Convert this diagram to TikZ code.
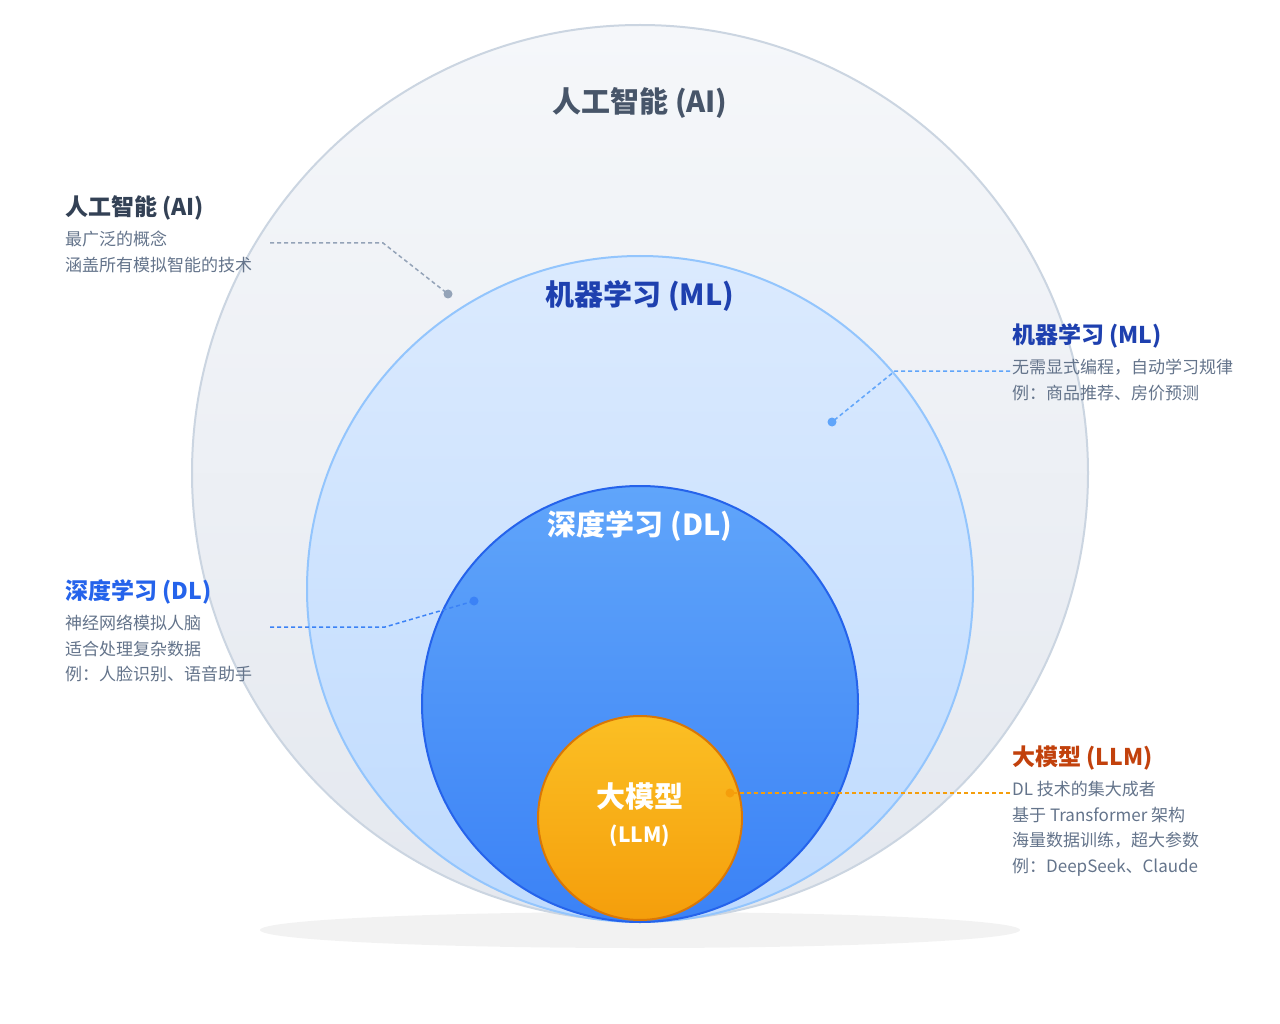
\documentclass[tikz,border=0pt]{standalone}
\usepackage{fontspec}
\setmainfont{Noto Sans CJK SC}
\usetikzlibrary{shapes.geometric}
\definecolor{aiS}{HTML}{CBD5E1}\definecolor{aiT}{HTML}{F5F7FA}\definecolor{aiB}{HTML}{E4E8EF}
\definecolor{mlS}{HTML}{93C5FD}\definecolor{mlT}{HTML}{DBEAFE}\definecolor{mlB}{HTML}{BFDBFE}
\definecolor{dlS}{HTML}{2563EB}\definecolor{dlT}{HTML}{60A5FA}\definecolor{dlB}{HTML}{3B82F6}
\definecolor{llS}{HTML}{D97706}\definecolor{llT}{HTML}{FBBF24}\definecolor{llB}{HTML}{F59E0B}
\definecolor{slate}{HTML}{475569}\definecolor{dark}{HTML}{334155}\definecolor{grey}{HTML}{64748B}
\definecolor{mlc}{HTML}{1E40AF}\definecolor{dlc}{HTML}{2563EB}\definecolor{llc}{HTML}{C2410C}
\definecolor{gline}{HTML}{94A3B8}\definecolor{bline}{HTML}{60A5FA}\definecolor{b2line}{HTML}{3B82F6}
\begin{document}
\begin{tikzpicture}[x=1pt,y=-1pt,
  circ/.style={circle,inner sep=0pt,line width=2pt},
  ctitle/.style={font=\fontsize{29}{34}\selectfont\bfseries},
  atitle/.style={anchor=west,inner sep=0pt,font=\fontsize{23}{28}\selectfont\bfseries},
  adesc/.style={anchor=north west,inner sep=0pt,align=left,text=grey,font=\fontsize{17}{25.5}\selectfont},
  conn/.style={dashed,line width=1.5pt,dash pattern=on 4pt off 3pt},
  dotn/.style={circle,inner sep=0pt,minimum size=9pt}]
\useasboundingbox (0,0) rectangle (1280,1024);
\fill[white] (0,0) rectangle (1280,1024);
\fill[black,opacity=0.05] (640,930) ellipse (380 and 18);
\node[circ,draw=aiS,top color=aiT,bottom color=aiB,minimum size=896pt] (ai) at (640,473) {};
\node[circ,draw=mlS,top color=mlT,bottom color=mlB,minimum size=666pt] (ml) at (640,589) {};
\node[circ,draw=dlS,top color=dlT,bottom color=dlB,minimum size=436pt] (dl) at (640,704) {};
\node[circ,draw=llS,top color=llT,bottom color=llB,minimum size=204pt] (ll) at (640,818) {};
\node[ctitle,text=slate] (tai) at (640,103) {人工智能 (AI)};
\node[ctitle,text=mlc] (tml) at (640,296) {机器学习 (ML)};
\node[ctitle,text=white] (tdl) at (640,526) {深度学习 (DL)};
\node[ctitle,text=white] (tll) at (640,796) {大模型};
\node[text=white,font=\fontsize{21}{25}\selectfont\bfseries] (tll2) at (640,836) {(LLM)};
% AI annotation
\node[atitle,text=dark] (a1) at (65,208) {人工智能 (AI)};
\node[adesc] (a1d) at (65,231) {最广泛的概念\\涵盖所有模拟智能的技术};
\coordinate (a1s) at (270,243); \coordinate (a1m) at (383,243);
\node[dotn,fill=gline] (a1p) at (448,294) {};
\draw[conn,gline] (a1s) -- (a1m) -- (a1p.center);
% ML annotation
\node[atitle,text=mlc] (a2) at (1012,336) {机器学习 (ML)};
\node[adesc] (a2d) at (1012,359) {无需显式编程，自动学习规律\\例：商品推荐、房价预测};
\coordinate (a2s) at (1010,371); \coordinate (a2m) at (895,371);
\node[dotn,fill=bline] (a2p) at (832,422) {};
\draw[conn,bline] (a2s) -- (a2m) -- (a2p.center);
% DL annotation
\node[atitle,text=dlc] (a3) at (65,592) {深度学习 (DL)};
\node[adesc] (a3d) at (65,615) {神经网络模拟人脑\\适合处理复杂数据\\例：人脸识别、语音助手};
\coordinate (a3s) at (270,627); \coordinate (a3m) at (385,627);
\node[dotn,fill=b2line] (a3p) at (474,601) {};
\draw[conn,b2line] (a3s) -- (a3m) -- (a3p.center);
% LLM annotation
\node[atitle,text=llc] (a4) at (1012,758) {大模型 (LLM)};
\node[adesc] (a4d) at (1012,781) {DL 技术的集大成者\\基于 Transformer 架构\\海量数据训练，超大参数\\例：DeepSeek、Claude};
\coordinate (a4s) at (1010,793);
\node[dotn,fill=llB] (a4p) at (730,793) {};
\draw[conn,llB] (a4s) -- (a4p.center);
\end{tikzpicture}
\end{document}
